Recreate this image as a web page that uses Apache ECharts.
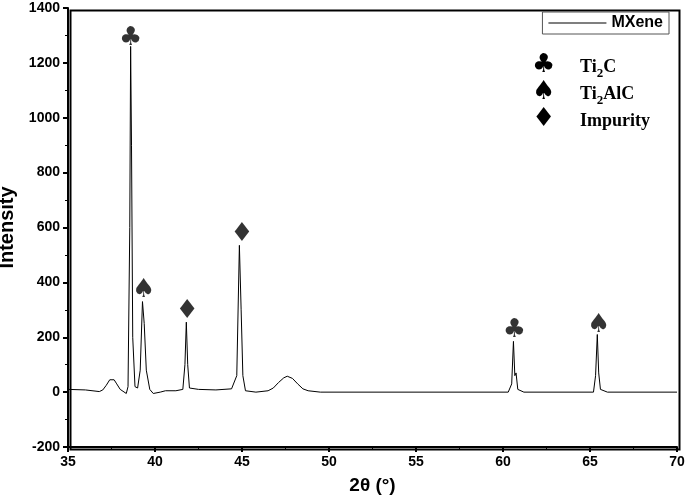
<!DOCTYPE html><html><head><meta charset="utf-8"><script src="https://cdn.jsdelivr.net/npm/echarts@6/dist/echarts.min.js"></script></head><body style="margin:0"><div id="c" style="width:685px;height:500px"></div><script>
const twoTheta=[35,36,36.8,37.0,37.2,37.4,37.5,37.65,37.8,38.0,38.1,38.35,38.45,38.55,38.6,38.65,38.72,38.85,39.0,39.15,39.28,39.38,39.5,39.7,39.9,40.3,40.6,41.2,41.6,41.72,41.8,41.88,41.98,42.5,43.5,44.4,44.7,44.85,44.95,45.05,45.2,45.8,46.5,46.8,47.1,47.4,47.6,47.9,48.2,48.5,48.8,49.5,55,60.3,60.5,60.6,60.68,60.75,60.85,61.2,65.2,65.32,65.42,65.5,65.6,66,70];
const intensity=[10,8,2,8,25,45,50,45,30,10,5,-5,20,600,1260,900,200,20,15,80,330,250,80,10,-5,0,5,5,10,100,255,100,15,10,8,12,60,535,300,60,5,0,5,15,35,52,58,50,30,12,5,0,0,0,30,185,60,70,10,0,0,60,210,70,10,0,0];
const markX=[38.6,39.35,41.85,45.0,60.65,65.5];
const markY=[1290,370,295,575,225,245];
const markSym=['♣','♠','♦','♦','♣','♠'];
const c=echarts.init(document.getElementById('c'));
const ax={fontFamily:'Liberation Sans',fontWeight:'bold',fontSize:14,color:'#000',formatter:v=>String(v)};
c.setOption({animation:false,
grid:{left:68,right:8,top:8,bottom:53,outerBoundsMode:'none',containLabel:false},
xAxis:{type:'value',min:35,max:70,interval:5,name:'2θ (°)',nameLocation:'middle',nameGap:29,nameTextStyle:{fontFamily:'Liberation Sans',fontWeight:'bold',fontSize:19,color:'#000'},
 axisLine:{onZero:false,lineStyle:{color:'#000',width:2}},axisTick:{lineStyle:{color:'#000',width:2},length:5},minorTick:{show:true,splitNumber:2,lineStyle:{color:'#000'}},axisLabel:Object.assign({},ax,{showMaxLabel:true,align:'center'}),splitLine:{show:false}},
yAxis:{type:'value',min:-200,max:1400,interval:200,name:'Intensity',nameLocation:'middle',nameGap:44,nameTextStyle:{fontFamily:'Liberation Sans',fontWeight:'bold',fontSize:20,color:'#000'},
 axisLine:{lineStyle:{color:'#000',width:2}},axisTick:{lineStyle:{color:'#000',width:2},length:5},minorTick:{show:true,splitNumber:2,lineStyle:{color:'#000'}},axisLabel:ax,splitLine:{show:false}},
legend:{right:16,top:12,data:['MXene'],icon:'path://M0,0H60V1H0Z',itemWidth:58,itemHeight:1,itemGap:4,borderColor:'#555',borderWidth:1,borderRadius:0,padding:[3,6],textStyle:{fontFamily:'Liberation Sans',fontWeight:'bold',fontSize:16,color:'#000'}},
graphic:[{type:'rect',shape:{x:0,y:0,width:609,height:439},left:68,top:8,style:{fill:'none',stroke:'#000',lineWidth:2},silent:true},
 {type:'text',left:532,top:52,style:{text:'♣\n♠\n♦',font:'bold 26px DejaVu Sans',lineHeight:27,fill:'#000'}},
 {type:'text',left:580,top:58,style:{rich:{b:{fontFamily:'Liberation Serif',fontWeight:'bold',fontSize:18,lineHeight:27},s:{fontFamily:'Liberation Serif',fontWeight:'bold',fontSize:13,verticalAlign:'bottom',padding:[8,0,0,0]}},text:'{b|Ti}{s|2}{b|C}\n{b|Ti}{s|2}{b|AlC}\n{b|Impurity}',fill:'#000'}}],
series:[{name:'MXene',type:'line',symbol:'none',color:'#000',lineStyle:{width:1},data:twoTheta.map((x,i)=>[x,intensity[i]])},
 {type:'scatter',symbolSize:0,data:markX.map((x,i)=>[x,markY[i]]),label:{show:true,position:'inside',formatter:p=>markSym[p.dataIndex],fontSize:26,fontFamily:'DejaVu Sans',color:'#000'}}]
});
</script></body></html>
